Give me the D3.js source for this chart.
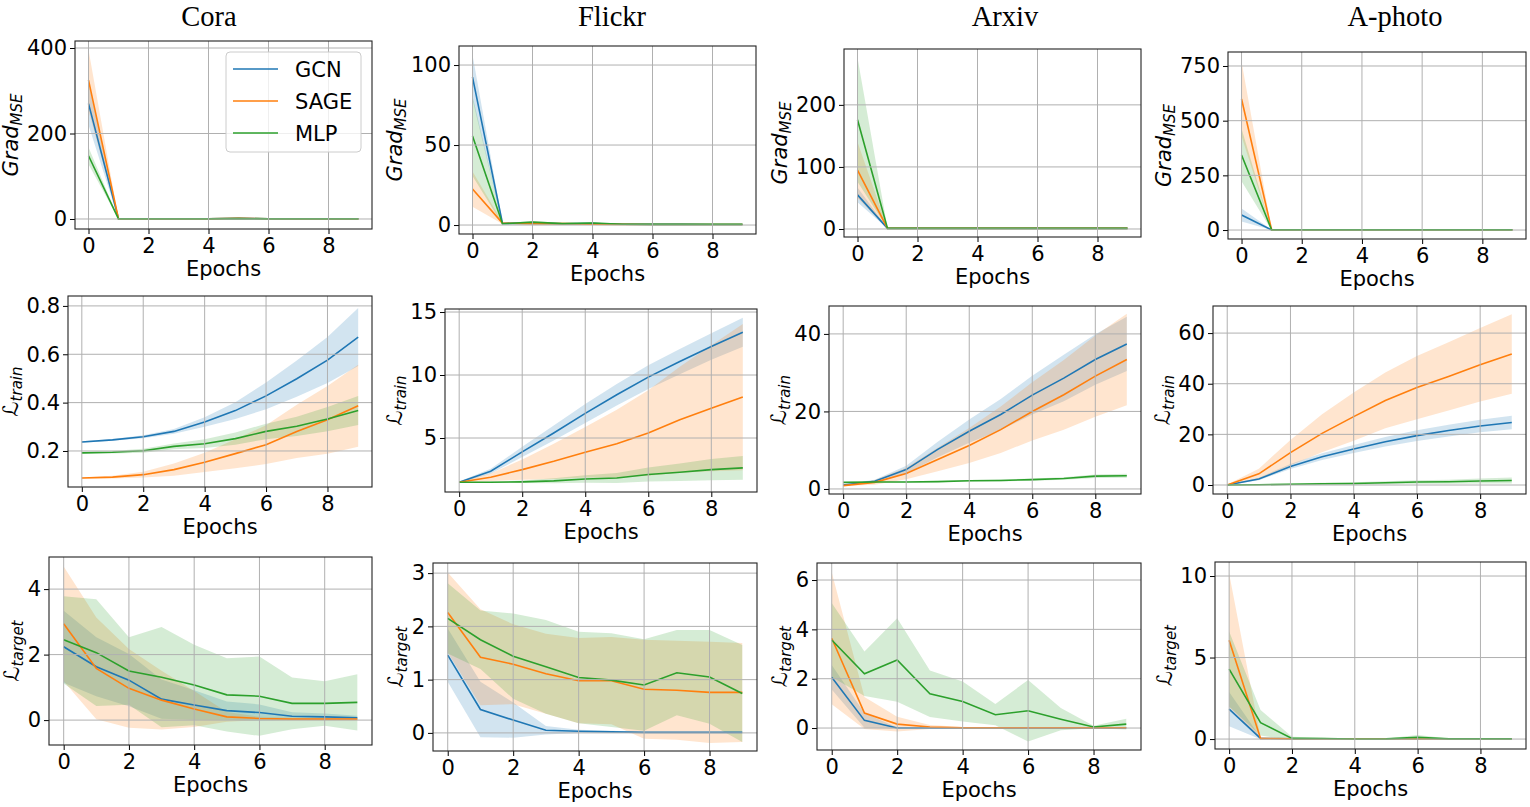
<!DOCTYPE html>
<html>
<head>
<meta charset="utf-8">
<script src="https://cdn.jsdelivr.net/npm/d3@7"></script>
<style>
body { margin: 0; background: #fff; }
text { font-family: "DejaVu Sans", sans-serif; fill: #000; }
</style>
</head>
<body>
<svg id="chart" width="1530" height="807"></svg>
<script>
const epochs = [0, 1, 2, 3, 4, 5, 6, 7, 8, 9];
const datasets = ["Cora", "Flickr", "Arxiv", "A-photo"];
const models = ["GCN", "SAGE", "MLP"];
const xTicks = [0, 2, 4, 6, 8];

// y tick values, one list per dataset
const gradTicks = [[0, 200, 400], [0, 50, 100], [0, 100, 200], [0, 250, 500, 750]];
const trainTicks = [[0.2, 0.4, 0.6, 0.8], [5, 10, 15], [0, 20, 40], [0, 20, 40, 60]];
const targetTicks = [[0, 2, 4], [0, 1, 2, 3], [0, 2, 4, 6], [0, 5, 10]];

// rows of each array: GCN, SAGE, MLP ; band = mean +/- std
const coraGradMean = [
  [270, 0.5, 0.4, 0.4, 0.5, 1.5, 0.5, 0.4, 0.4, 0.4],
  [325, 0.4, 0.3, 0.3, 0.4, 1.8, 0.5, 0.3, 0.3, 0.3],
  [148, 0.3, 0.3, 0.3, 0.4, 1.2, 0.4, 0.3, 0.3, 0.3]];
const coraGradStd = [
  [50, 0.3, 0.3, 0.3, 0.3, 1.0, 0.3, 0.3, 0.3, 0.3],
  [71, 0.3, 0.3, 0.3, 0.3, 1.2, 0.3, 0.3, 0.3, 0.3],
  [20, 0.2, 0.2, 0.2, 0.2, 0.8, 0.2, 0.2, 0.2, 0.2]];

const flickrGradMean = [
  [92.5, 1.0, 1.2, 0.8, 1.0, 0.5, 0.4, 0.4, 0.3, 0.3],
  [22.5, 1.2, 0.8, 1.0, 0.6, 0.4, 0.3, 0.3, 0.3, 0.3],
  [55.7, 0.8, 1.8, 0.9, 1.3, 0.5, 0.4, 0.4, 0.4, 0.4]];
const flickrGradStd = [
  [14, 0.4, 0.6, 0.4, 0.5, 0.3, 0.2, 0.2, 0.2, 0.2],
  [11, 0.5, 0.4, 0.6, 0.4, 0.2, 0.2, 0.2, 0.2, 0.2],
  [25, 0.4, 0.8, 0.4, 0.6, 0.3, 0.2, 0.2, 0.2, 0.2]];

const arxivGradMean = [
  [55, 1.0, 1.0, 1.0, 1.0, 1.0, 1.0, 1.0, 1.0, 1.0],
  [95, 1.0, 1.0, 1.0, 1.0, 1.0, 1.0, 1.0, 1.0, 1.0],
  [176, 1.0, 1.0, 1.0, 1.0, 1.0, 1.0, 1.0, 1.0, 1.0]];
const arxivGradStd = [
  [12, 0.2, 0.2, 0.2, 0.2, 0.2, 0.2, 0.2, 0.2, 0.2],
  [45, 0.2, 0.2, 0.2, 0.2, 0.2, 0.2, 0.2, 0.2, 0.2],
  [100, 0.3, 0.3, 0.3, 0.3, 0.3, 0.3, 0.3, 0.3, 0.3]];

const aphotoGradMean = [
  [69, 0.5, 0.5, 0.5, 0.5, 0.5, 0.5, 0.5, 0.5, 0.5],
  [599, 0.5, 0.5, 0.5, 0.5, 0.5, 0.5, 0.5, 0.5, 0.5],
  [343, 0.5, 0.5, 0.5, 0.5, 0.5, 0.5, 0.5, 0.5, 0.5]];
const aphotoGradStd = [
  [30, 0.5, 0.5, 0.5, 0.5, 0.5, 0.5, 0.5, 0.5, 0.5],
  [170, 1.0, 1.0, 1.0, 1.0, 1.0, 1.0, 1.0, 1.0, 1.0],
  [120, 1.0, 1.0, 1.0, 1.0, 1.0, 1.0, 1.0, 1.0, 1.0]];

const coraTrainMean = [
  [0.237, 0.246, 0.259, 0.281, 0.32, 0.367, 0.428, 0.499, 0.576, 0.671],
  [0.088, 0.092, 0.102, 0.123, 0.153, 0.189, 0.226, 0.281, 0.329, 0.387],
  [0.192, 0.195, 0.201, 0.219, 0.23, 0.251, 0.281, 0.302, 0.332, 0.367]];
const coraTrainStd = [
  [0.003, 0.004, 0.006, 0.01, 0.02, 0.035, 0.055, 0.075, 0.095, 0.12],
  [0.002, 0.006, 0.012, 0.025, 0.04, 0.06, 0.08, 0.11, 0.14, 0.17],
  [0.003, 0.005, 0.008, 0.012, 0.018, 0.025, 0.032, 0.04, 0.05, 0.06]];

const flickrTrainMean = [
  [1.49, 2.36, 3.9, 5.4, 6.95, 8.43, 9.83, 11.07, 12.26, 13.39],
  [1.49, 1.89, 2.49, 3.15, 3.87, 4.55, 5.4, 6.45, 7.37, 8.25],
  [1.49, 1.49, 1.52, 1.6, 1.75, 1.83, 2.1, 2.28, 2.49, 2.63]];
const flickrTrainStd = [
  [0.05, 0.2, 0.4, 0.6, 0.75, 0.85, 0.95, 1.0, 1.05, 1.15],
  [0.05, 0.3, 0.8, 1.4, 2.0, 2.7, 3.4, 4.2, 5.0, 5.8],
  [0.02, 0.05, 0.1, 0.2, 0.3, 0.4, 0.55, 0.7, 0.85, 0.95]];

const arxivTrainMean = [
  [1.0, 2.0, 5.0, 10.2, 14.9, 19.2, 24.2, 28.6, 33.4, 37.4],
  [0.86, 1.7, 4.0, 7.6, 11.2, 15.3, 20.0, 24.3, 29.1, 33.4],
  [1.7, 1.8, 1.8, 1.9, 2.1, 2.2, 2.4, 2.7, 3.3, 3.4]];
const arxivTrainStd = [
  [0.2, 0.4, 1, 2, 3, 4, 5, 6, 6.5, 7],
  [0.1, 0.6, 1.5, 3, 4.5, 6, 7.5, 9, 10.5, 11.8],
  [0.1, 0.1, 0.15, 0.15, 0.2, 0.25, 0.3, 0.35, 0.45, 0.5]];

const aphotoTrainMean = [
  [0, 2.4, 7.3, 11.2, 14.2, 17.1, 19.5, 21.5, 23.3, 24.7],
  [0, 4.4, 12.8, 20.4, 27.0, 33.4, 38.5, 42.9, 47.5, 51.7],
  [0, 0.1, 0.3, 0.5, 0.6, 0.9, 1.2, 1.3, 1.6, 1.8]];
const aphotoTrainStd = [
  [0.1, 0.5, 1, 1.3, 1.6, 1.9, 2.1, 2.3, 2.5, 2.7],
  [0.2, 2, 5, 7.5, 9.5, 11, 12.5, 13.5, 14.5, 15.7],
  [0.1, 0.2, 0.3, 0.4, 0.5, 0.6, 0.7, 0.8, 1.0, 1.2]];

const coraTargetMean = [
  [2.24, 1.63, 1.22, 0.64, 0.46, 0.29, 0.23, 0.12, 0.10, 0.07],
  [2.94, 1.58, 0.97, 0.61, 0.34, 0.10, 0.05, 0.03, 0.03, 0.03],
  [2.45, 2.06, 1.5, 1.31, 1.07, 0.77, 0.73, 0.51, 0.51, 0.54]];
const coraTargetStd = [
  [1.1, 0.9, 0.8, 0.6, 0.45, 0.28, 0.25, 0.12, 0.1, 0.06],
  [1.75, 1.55, 1.2, 0.9, 0.55, 0.15, 0.05, 0.04, 0.04, 0.04],
  [1.33, 1.63, 1.03, 1.53, 1.23, 1.12, 1.21, 0.79, 0.68, 0.86]];

const flickrTargetMean = [
  [1.46, 0.44, 0.24, 0.05, 0.03, 0.02, 0.01, 0.01, 0.01, 0.01],
  [2.26, 1.42, 1.29, 1.11, 0.98, 0.98, 0.82, 0.80, 0.76, 0.76],
  [2.15, 1.75, 1.44, 1.24, 1.04, 0.99, 0.90, 1.13, 1.05, 0.74]];
const flickrTargetStd = [
  [0.5, 0.52, 0.33, 0.08, 0.03, 0.02, 0.01, 0.01, 0.01, 0.01],
  [0.75, 0.9, 0.75, 0.75, 0.8, 0.82, 0.93, 0.93, 0.95, 0.93],
  [0.66, 0.55, 0.8, 0.88, 0.86, 0.88, 0.86, 0.8, 0.88, 0.91]];

const arxivTargetMean = [
  [2.06, 0.31, 0.0, 0.0, 0.0, 0.0, 0.0, 0.0, 0.0, 0.0],
  [3.64, 0.61, 0.16, 0.04, 0.01, 0.01, 0.01, 0.01, 0.01, 0.01],
  [3.57, 2.2, 2.76, 1.39, 1.08, 0.54, 0.7, 0.36, 0.04, 0.16]];
const arxivTargetStd = [
  [0.5, 0.3, 0.02, 0.01, 0.01, 0.01, 0.01, 0.01, 0.01, 0.01],
  [2.68, 0.65, 0.3, 0.08, 0.03, 0.03, 0.03, 0.03, 0.03, 0.03],
  [1.5, 0.9, 1.69, 0.94, 0.81, 0.43, 1.25, 0.45, 0.05, 0.22]];

const aphotoTargetMean = [
  [1.84, 0.04, 0.02, 0.02, 0.02, 0.02, 0.02, 0.02, 0.02, 0.02],
  [6.06, 0.04, 0.02, 0.02, 0.02, 0.02, 0.02, 0.02, 0.02, 0.02],
  [4.29, 1.0, 0.04, 0.03, 0.0, 0.01, 0.1, 0.01, 0.01, 0.01]];
const aphotoTargetStd = [
  [1.05, 0.05, 0.02, 0.02, 0.02, 0.02, 0.02, 0.02, 0.02, 0.02],
  [4.1, 0.05, 0.02, 0.02, 0.02, 0.02, 0.02, 0.02, 0.02, 0.02],
  [2.3, 0.78, 0.1, 0.05, 0.02, 0.02, 0.15, 0.02, 0.02, 0.02]];

// ---- assemble per row ----
const rows = [
  {label: ["Grad", "MSE", true], ticks: gradTicks,
   mean: [coraGradMean, flickrGradMean, arxivGradMean, aphotoGradMean],
   std: [coraGradStd, flickrGradStd, arxivGradStd, aphotoGradStd]},
  {label: ["\u2112", "train", false], ticks: trainTicks,
   mean: [coraTrainMean, flickrTrainMean, arxivTrainMean, aphotoTrainMean],
   std: [coraTrainStd, flickrTrainStd, arxivTrainStd, aphotoTrainStd]},
  {label: ["\u2112", "target", false], ticks: targetTicks,
   mean: [coraTargetMean, flickrTargetMean, arxivTargetMean, aphotoTargetMean],
   std: [coraTargetStd, flickrTargetStd, arxivTargetStd, aphotoTargetStd]}
];

// ---- layout: axes boxes [left, top, right, bottom] and y limits ----
const boxes = [
  [[75, 41, 372, 229], [459, 46, 756, 234], [844, 49, 1141, 237], [1228, 52, 1526, 239]],
  [[68, 296, 372, 487], [445, 309, 757, 492], [829, 306, 1141, 494], [1213, 306, 1526, 494]],
  [[49, 557, 372, 745], [433, 563, 757, 751], [817, 563, 1141, 750], [1215, 562, 1526, 749]]
];
const yLims = [
  [[-23.4, 416.4], [-5.6, 111.9], [-12.9, 290], [-41, 814]],
  [[0.051, 0.841], [0.714, 15.24], [-1.3, 47.2], [-3.55, 70.7]],
  [[-0.76, 4.98], [-0.34, 3.19], [-0.89, 6.69], [-0.61, 10.86]]
];
const titleX = [209, 612, 1005, 1395];
const colors = ["#1f77b4", "#ff7f0e", "#2ca02c"];
const fs = 21;

const svg = d3.select("#chart");
svg.append("rect").attr("width", 1530).attr("height", 807).attr("fill", "#fff");

datasets.forEach((name, c) => {
  svg.append("text")
    .attr("x", titleX[c]).attr("y", 26)
    .attr("text-anchor", "middle")
    .style("font-family", "'Liberation Serif', serif")
    .style("font-size", "28.5px")
    .text(name);
});

function drawPanel(r, c) {
  const row = rows[r];
  const [x0, y0, x1, y1] = boxes[r][c];
  const x = d3.scaleLinear().domain([-0.45, 9.45]).range([x0, x1]);
  const y = d3.scaleLinear().domain(yLims[r][c]).range([y1, y0]);
  const g = svg.append("g");
  const clipId = "clip-" + r + "-" + c;

  g.append("clipPath").attr("id", clipId)
    .append("rect")
    .attr("x", x0).attr("y", y0)
    .attr("width", x1 - x0).attr("height", y1 - y0);

  const plot = g.append("g").attr("clip-path", "url(#" + clipId + ")");
  const means = row.mean[c], stds = row.std[c];

  // bands
  means.forEach((m, k) => {
    const s = stds[k];
    const area = d3.area()
      .x((d, i) => x(epochs[i]))
      .y0((d, i) => y(m[i] - s[i]))
      .y1((d, i) => y(m[i] + s[i]));
    plot.append("path").datum(m)
      .attr("d", area)
      .attr("fill", colors[k])
      .attr("fill-opacity", 0.2);
  });

  // grid
  const grid = g.append("g").attr("stroke", "#b0b0b0").attr("stroke-width", 1);
  xTicks.forEach(t => {
    grid.append("line").attr("x1", x(t)).attr("x2", x(t)).attr("y1", y0).attr("y2", y1);
  });
  row.ticks[c].forEach(t => {
    grid.append("line").attr("x1", x0).attr("x2", x1).attr("y1", y(t)).attr("y2", y(t));
  });

  // lines
  const line = d3.line()
    .x((d, i) => x(epochs[i]))
    .y(d => y(d));
  means.forEach((m, k) => {
    plot.append("path").datum(m)
      .attr("d", line)
      .attr("fill", "none")
      .attr("stroke", colors[k])
      .attr("stroke-width", 1.6);
  });

  // axes
  const xa = g.append("g")
    .attr("transform", "translate(0," + y1 + ")")
    .call(d3.axisBottom(x).tickValues(xTicks).tickSize(5).tickPadding(3.6).tickFormat(d3.format("d")));
  const ya = g.append("g")
    .attr("transform", "translate(" + x0 + ",0)")
    .call(d3.axisLeft(y).tickValues(row.ticks[c]).tickSize(5).tickPadding(3).tickFormat(d => String(d)));
  [xa, ya].forEach(a => {
    a.select(".domain").remove();
    a.selectAll("line").attr("stroke", "#000").attr("stroke-width", 1);
    a.selectAll("text")
      .style("font-family", "'DejaVu Sans', sans-serif")
      .style("font-size", fs + "px")
      .attr("fill", "#000");
  });

  g.append("rect")
    .attr("x", x0).attr("y", y0)
    .attr("width", x1 - x0).attr("height", y1 - y0)
    .attr("fill", "none").attr("stroke", "#222").attr("stroke-width", 1.1);

  // x label
  g.append("text")
    .attr("x", (x0 + x1) / 2).attr("y", y1 + 47)
    .attr("text-anchor", "middle")
    .style("font-size", fs + "px")
    .text("Epochs");

  // y label, placed left of the widest tick label
  let maxW = 0;
  ya.selectAll("text").each(function () { maxW = Math.max(maxW, this.getComputedTextLength()); });
  const bx = x0 - 8 - maxW - 8.5;
  const yl = g.append("text")
    .attr("transform", "translate(" + bx + "," + (y0 + y1) / 2 + ") rotate(-90)")
    .attr("text-anchor", "middle")
    .style("font-size", fs + "px");
  yl.append("tspan")
    .style("font-style", row.label[2] ? "italic" : "normal")
    .text(row.label[0]);
  yl.append("tspan")
    .attr("dy", 4)
    .style("font-style", "italic")
    .style("font-size", "15px")
    .text(row.label[1]);

  // legend (first panel only)
  if (r === 0 && c === 0) {
    const lx = x1 - 11 - 135, ly = y0 + 11;
    const leg = g.append("g");
    leg.append("rect")
      .attr("x", lx).attr("y", ly).attr("width", 135).attr("height", 100)
      .attr("rx", 4)
      .attr("fill", "#fff").attr("fill-opacity", 0.8)
      .attr("stroke", "#ccc");
    models.forEach((m, k) => {
      const yy = ly + 17 + k * 32;
      leg.append("line")
        .attr("x1", lx + 7).attr("x2", lx + 52)
        .attr("y1", yy).attr("y2", yy)
        .attr("stroke", colors[k]).attr("stroke-width", 1.6);
      leg.append("text")
        .attr("x", lx + 69).attr("y", yy + 8)
        .style("font-size", fs + "px")
        .text(m);
    });
  }
}

rows.forEach((row, r) => datasets.forEach((d, c) => drawPanel(r, c)));
</script>
</body>
</html>
